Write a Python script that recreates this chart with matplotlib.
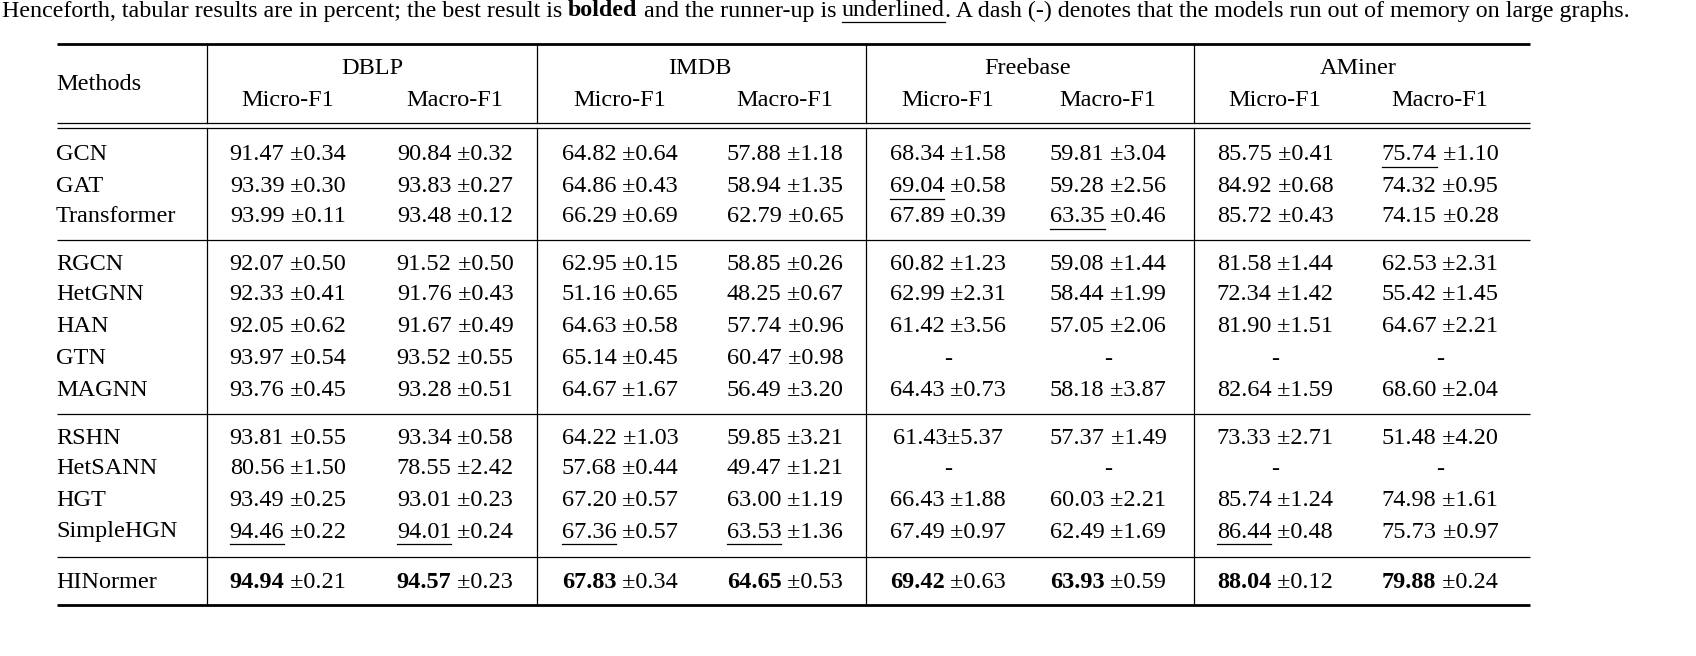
import matplotlib
matplotlib.use("Agg")
import matplotlib.pyplot as plt

methods = ["GCN","GAT","Transformer","RGCN","HetGNN","HAN","GTN","MAGNN",
           "RSHN","HetSANN","HGT","SimpleHGN","HINormer"]
datasets = ["DBLP","IMDB","Freebase","AMiner"]
metrics = ["Micro-F1","Macro-F1"]
dblp_micro = ["91.47 ±0.34","93.39 ±0.30","93.99 ±0.11","92.07 ±0.50","92.33 ±0.41","92.05 ±0.62","93.97 ±0.54","93.76 ±0.45","93.81 ±0.55","80.56 ±1.50","93.49 ±0.25","94.46 ±0.22","94.94 ±0.21"]
dblp_macro = ["90.84 ±0.32","93.83 ±0.27","93.48 ±0.12","91.52 ±0.50","91.76 ±0.43","91.67 ±0.49","93.52 ±0.55","93.28 ±0.51","93.34 ±0.58","78.55 ±2.42","93.01 ±0.23","94.01 ±0.24","94.57 ±0.23"]
imdb_micro = ["64.82 ±0.64","64.86 ±0.43","66.29 ±0.69","62.95 ±0.15","51.16 ±0.65","64.63 ±0.58","65.14 ±0.45","64.67 ±1.67","64.22 ±1.03","57.68 ±0.44","67.20 ±0.57","67.36 ±0.57","67.83 ±0.34"]
imdb_macro = ["57.88 ±1.18","58.94 ±1.35","62.79 ±0.65","58.85 ±0.26","48.25 ±0.67","57.74 ±0.96","60.47 ±0.98","56.49 ±3.20","59.85 ±3.21","49.47 ±1.21","63.00 ±1.19","63.53 ±1.36","64.65 ±0.53"]
fb_micro = ["68.34 ±1.58","69.04 ±0.58","67.89 ±0.39","60.82 ±1.23","62.99 ±2.31","61.42 ±3.56","-","64.43 ±0.73","61.43±5.37","-","66.43 ±1.88","67.49 ±0.97","69.42 ±0.63"]
fb_macro = ["59.81 ±3.04","59.28 ±2.56","63.35 ±0.46","59.08 ±1.44","58.44 ±1.99","57.05 ±2.06","-","58.18 ±3.87","57.37 ±1.49","-","60.03 ±2.21","62.49 ±1.69","63.93 ±0.59"]
am_micro = ["85.75 ±0.41","84.92 ±0.68","85.72 ±0.43","81.58 ±1.44","72.34 ±1.42","81.90 ±1.51","-","82.64 ±1.59","73.33 ±2.71","-","85.74 ±1.24","86.44 ±0.48","88.04 ±0.12"]
am_macro = ["75.74 ±1.10","74.32 ±0.95","74.15 ±0.28","62.53 ±2.31","55.42 ±1.45","64.67 ±2.21","-","68.60 ±2.04","51.48 ±4.20","-","74.98 ±1.61","75.73 ±0.97","79.88 ±0.24"]
columns = [dblp_micro, dblp_macro, imdb_micro, imdb_macro, fb_micro, fb_macro, am_micro, am_macro]
# (row, col) of runner-up entries; best = last row
underlined = [(0,7),(1,4),(2,5),(11,0),(11,1),(11,2),(11,3),(11,6)]
best_row = 12

W, H = 1696, 656
fig = plt.figure(figsize=(W/100, H/100), dpi=100)
ax = fig.add_axes([0,0,1,1]); ax.axis("off")
ax.set_xlim(0, W); ax.set_ylim(H, 0)
FONT = "Liberation Serif"; FS = 17.5
r = fig.canvas.get_renderer()

def txt(x, y, s, ha="left", weight="normal", fs=FS):
    return ax.text(x, y, s, ha=ha, va="center", fontsize=fs, family=FONT, weight=weight)

def width(t):
    return t.get_window_extent(r).width

# caption
x = 2; yc = 11
for s, w, ul in [("Henceforth, tabular results are in percent; the best result is ", "normal", False),
                 ("bolded", "bold", False), (" and the runner-up is ", "normal", False),
                 ("underlined", "normal", True),
                 (". A dash (-) denotes that the models run out of memory on large graphs.", "normal", False)]:
    t = txt(x, yc, s, weight=w, fs=17.3)
    wd = width(t)
    if ul:
        ax.plot([x, x+wd], [yc+11, yc+11], color="black", lw=0.9)
    x += wd

L, R = 57, 1530
for y, lw in [(44, 2.0), (123, 0.9), (128, 0.9), (240, 0.9), (414, 0.9), (557, 0.9), (605, 2.0)]:
    ax.plot([L, R], [y, y], color="black", lw=lw, solid_capstyle="butt")
for xv in [207, 537, 866, 1194]:
    ax.plot([xv, xv], [44, 123], color="black", lw=0.9)
    ax.plot([xv, xv], [128, 605], color="black", lw=0.9)

txt(56, 84, "Methods")
head_cx = [372, 700, 1028, 1358]
col_cx = [288, 455, 620, 785, 948, 1108, 1275, 1440]
for d, cx in zip(datasets, head_cx):
    txt(cx, 68, d, ha="center")
for i, cx in enumerate(col_cx):
    txt(cx, 100, metrics[i % 2], ha="center")

row_y = [155, 187, 217, 264, 294, 326, 359, 391, 438, 469, 501, 532, 582]
for i, (m, y) in enumerate(zip(methods, row_y)):
    txt(56, y, m)
    for j, col in enumerate(columns):
        s = col[i]; cx = col_cx[j]
        if s == "-":
            txt(cx, y, s, ha="center"); continue
        if "±" in s:
            k = s.index("±")
            num = s[:k].rstrip(); rest = s[len(num):]
        else:
            num, rest = s, ""
        tn = txt(0, y, num, weight="bold" if i == best_row else "normal")
        tr = txt(0, y, rest)
        wn, wr = width(tn), width(tr)
        x0 = cx - (wn + wr)/2
        tn.set_x(x0); tr.set_x(x0 + wn)
        if (i, j) in underlined:
            ax.plot([x0, x0+wn], [y+12, y+12], color="black", lw=0.9)

fig.savefig("out.png", dpi=100)
